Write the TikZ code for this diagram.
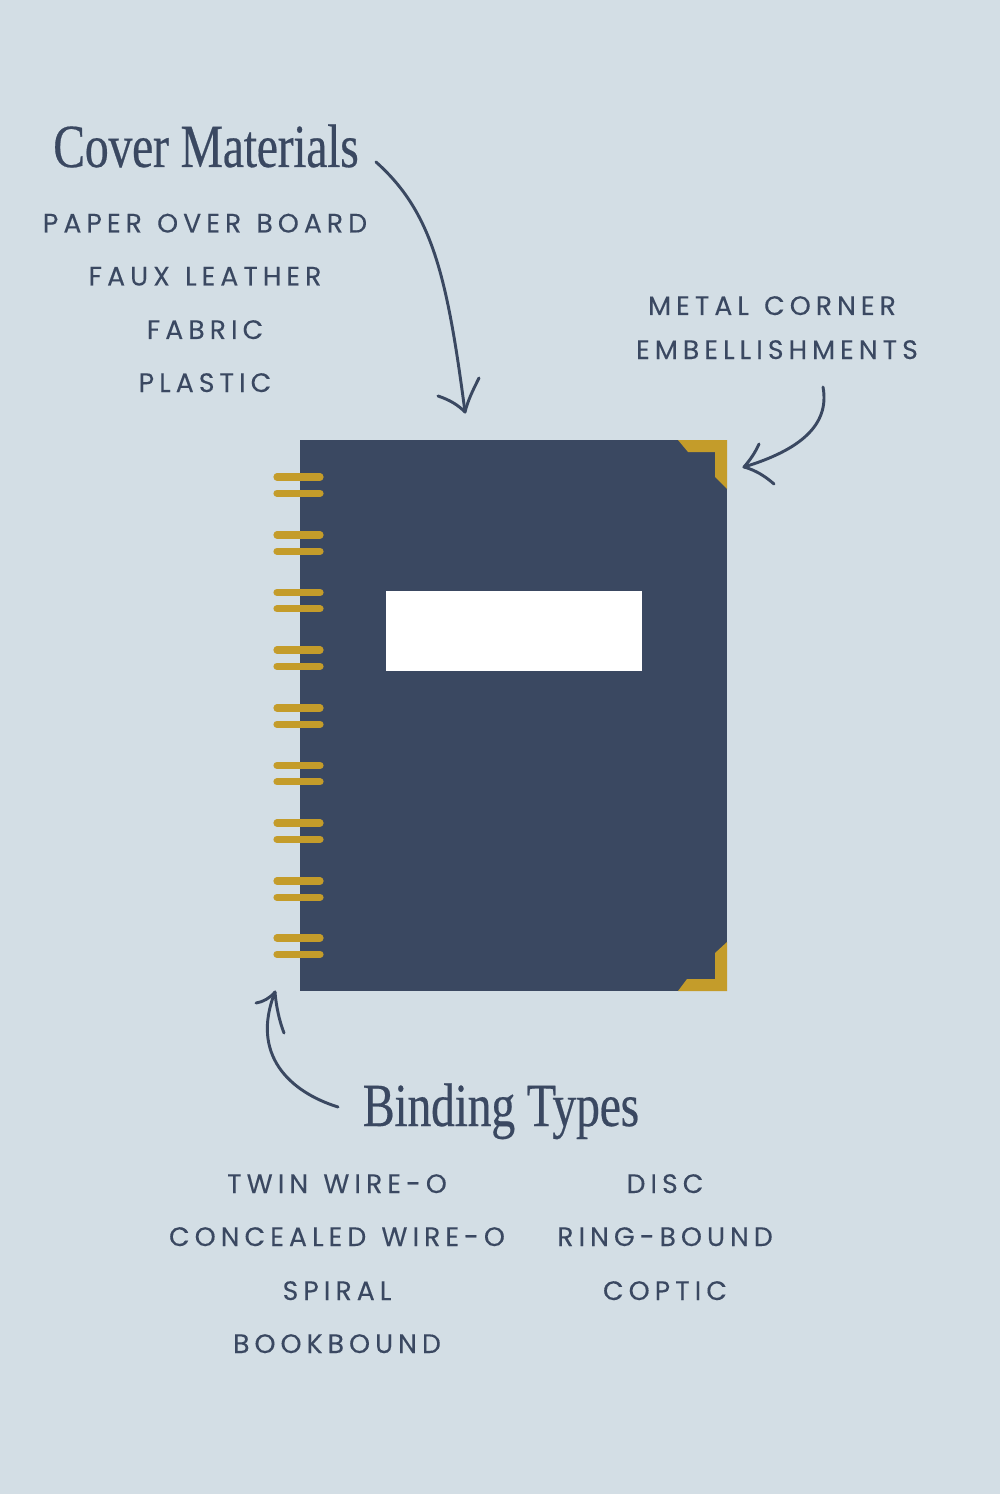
\documentclass[tikz,border=0pt]{standalone}
\usepackage{fontspec}
\newfontfamily\labelfont[LetterSpace=19,WordSpace=1.25,FakeBold=0.2]{Poppins}
\newfontfamily\headfont[FakeStretch=0.78,FakeBold=0.35,LetterSpace=-0.5]{Liberation Serif}
\definecolor{bgblue}{HTML}{D3DEE5}
\definecolor{navy}{HTML}{3A4861}
\definecolor{gold}{HTML}{C49C2A}
\tikzset{
  lbl/.style={anchor=base,inner sep=0pt,text=navy,font=\labelfont\fontsize{20}{22}\selectfont},
  head/.style={anchor=base,inner sep=0pt,text=navy,font=\headfont\fontsize{46}{50}\selectfont},
  wire/.style={gold,line width=5.4pt,line cap=round},
  curve/.style={navy,line width=2.2pt,line cap=round,line join=round},
  cornerfill/.style={fill=gold,draw=none}
}
\begin{document}
\begin{tikzpicture}[x=0.75pt,y=-0.75pt]
\path[use as bounding box,fill=bgblue] (0,0) rectangle (1000,1494);
% book
\fill[navy] (300,440) rectangle (727,991);
\node[fill=white,inner sep=0pt,minimum width=192pt,minimum height=60pt] (plate) at (514,631) {};
\fill[cornerfill] (678,440) -- (727,440) -- (727,489) -- (715,477) -- (715,452) -- (688,452) -- cycle;
\fill[cornerfill] (678,991) -- (727,991) -- (727,942) -- (715,953) -- (715,979) -- (687,979) -- cycle;
% wires
\foreach \y in {477,535,592.5,650,708,765.5,823,881,938}{
  \draw[wire] (277,\y) -- (320,\y);
  \draw[wire] (277,\y+16.3) -- (320,\y+16.3);
}
% texts
\node[head] (cover) at (206,167) {Cover Materials};
\node[lbl] (t1) at (205,232.5) {PAPER OVER BOARD};
\node[lbl] (t2) at (205,285.5) {FAUX LEATHER};
\node[lbl] (t3) at (205,339) {FABRIC};
\node[lbl] (t4) at (205,392) {PLASTIC};
\node[lbl] (m1) at (772,315) {METAL CORNER};
\node[lbl] (m2) at (777,359) {EMBELLISHMENTS};
\node[head] (binding) at (501,1126) {Binding Types};
\node[lbl] (b1) at (337,1193) {TWIN WIRE-O};
\node[lbl] (b2) at (337,1246) {CONCEALED WIRE-O};
\node[lbl] (b3) at (337,1300) {SPIRAL};
\node[lbl] (b4) at (337,1353) {BOOKBOUND};
\node[lbl] (c1) at (665,1193) {DISC};
\node[lbl] (c2) at (665,1246) {RING-BOUND};
\node[lbl] (c3) at (665,1300) {COPTIC};
% arrows
\coordinate (a1s) at (376,162);
\coordinate (a1t) at (465,412);
\coordinate (a2s) at (823,387);
\coordinate (a2t) at (744,467);
\coordinate (a3s) at (338,1107);
\coordinate (a3t) at (275,992);
\draw[curve] (a1s) .. controls (432,212) and (447,275) .. (a1t);
\draw[curve] (438,396) .. controls (450,400) and (458,405) .. (a1t) .. controls (468,400) and (473,390) .. (479,378);
\draw[curve] (a2s) .. controls (830,425) and (800,450) .. (a2t);
\draw[curve] (759,444) .. controls (755,453) and (750,460) .. (a2t) .. controls (755,470) and (765,476) .. (774,484);
\draw[curve] (a3s) .. controls (290,1092) and (250,1055) .. (a3t);
\draw[curve] (256,1003) .. controls (263,1002) and (270,998) .. (a3t) .. controls (276,1005) and (279,1020) .. (284,1033);
\end{tikzpicture}
\end{document}
